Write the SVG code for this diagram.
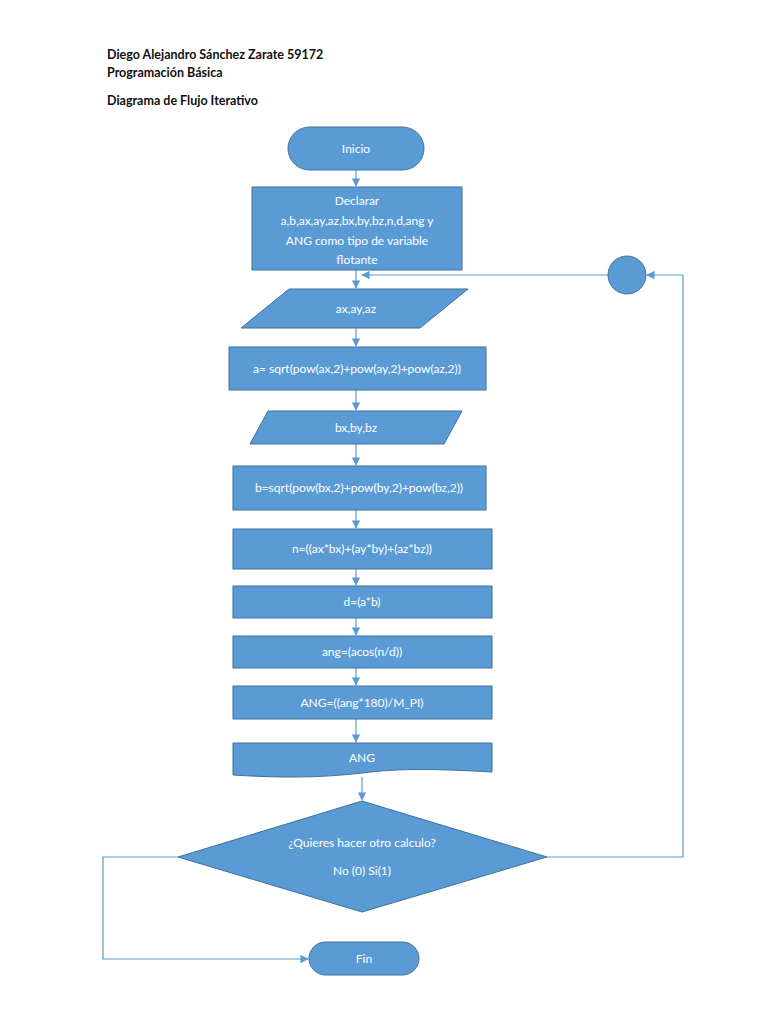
<svg xmlns="http://www.w3.org/2000/svg" width="768" height="1024" viewBox="0 0 768 1024">
<style>
.n{fill:#5B9BD5;stroke:#41719C;stroke-width:1}
.t{font-family:Lato,"Liberation Sans",sans-serif;font-size:12px;fill:#fff;text-anchor:middle}
.h{font-family:Lato,"Liberation Sans",sans-serif;font-size:12.5px;fill:#111;font-weight:bold}
.c{fill:none;stroke:#5B9BD5;stroke-width:1.2}
</style>
<defs><marker id="a" viewBox="0 0 10 10" refX="9" refY="5" markerWidth="7" markerHeight="7" orient="auto"><path d="M0,0L10,5L0,10z" fill="#5B9BD5"/></marker></defs>
<rect width="768" height="1024" fill="#fff"/>
<text class="h" x="107" y="59">Diego Alejandro Sánchez Zarate    59172</text>
<text class="h" x="107" y="77">Programación Básica</text>
<text class="h" x="107" y="105">Diagrama de Flujo Iterativo</text>
<g id="connectors">
<path class="c" d="M356,170V186" marker-end="url(#a)"/>
<path class="c" d="M356,270V288" marker-end="url(#a)"/>
<path class="c" d="M608,275H362" marker-end="url(#a)"/>
<path class="c" d="M547,857H683V275H647" marker-end="url(#a)"/>
<path class="c" d="M356,328V346" marker-end="url(#a)"/>
<path class="c" d="M356,390V410" marker-end="url(#a)"/>
<path class="c" d="M356,444V465" marker-end="url(#a)"/>
<path class="c" d="M356,510V528" marker-end="url(#a)"/>
<path class="c" d="M356,569V585" marker-end="url(#a)"/>
<path class="c" d="M356,618V635" marker-end="url(#a)"/>
<path class="c" d="M356,668V685" marker-end="url(#a)"/>
<path class="c" d="M356,719V742" marker-end="url(#a)"/>
<path class="c" d="M362,777V800" marker-end="url(#a)"/>
<path class="c" d="M178,857H103V959H308" marker-end="url(#a)"/>
</g>
<g id="inicio"><rect class="n" x="288" y="127" width="136" height="43" rx="21.5"/><text class="t" x="356" y="153">Inicio</text></g>
<g id="declarar"><rect class="n" x="252" y="187" width="210" height="83"/>
<text class="t" x="357" y="205">Declarar</text><text class="t" x="357" y="225">a,b,ax,ay,az,bx,by,bz,n,d,ang y</text><text class="t" x="357" y="245">ANG como tipo de variable</text><text class="t" x="357" y="264">flotante</text></g>
<g id="conector"><circle class="n" cx="627" cy="275" r="19"/></g>
<g id="in-a"><polygon class="n" points="289,289 468,289 420,328 241,328"/><text class="t" x="356" y="313">ax,ay,az</text></g>
<g id="calc-a"><rect class="n" x="229" y="347" width="257" height="43"/><text class="t" x="357" y="373">a= sqrt(pow(ax,2)+pow(ay,2)+pow(az,2))</text></g>
<g id="in-b"><polygon class="n" points="268,411 462,411 444,444 250,444"/><text class="t" x="356" y="432">bx,by,bz</text></g>
<g id="calc-b"><rect class="n" x="233" y="466" width="253" height="44"/><text class="t" x="359" y="492">b=sqrt(pow(bx,2)+pow(by,2)+pow(bz,2))</text></g>
<g id="calc-n"><rect class="n" x="233" y="529" width="259" height="40"/><text class="t" x="362" y="553">n=((ax*bx)+(ay*by)+(az*bz))</text></g>
<g id="calc-d"><rect class="n" x="233" y="586" width="259" height="32"/><text class="t" x="362" y="606">d=(a*b)</text></g>
<g id="calc-ang"><rect class="n" x="233" y="636" width="259" height="32"/><text class="t" x="362" y="656">ang=(acos(n/d))</text></g>
<g id="calc-ANG"><rect class="n" x="233" y="686" width="259" height="33"/><text class="t" x="362" y="707">ANG=((ang*180)/M_PI)</text></g>
<g id="out"><path class="n" d="M233,743H492V772C440,769 400,768 362,773C320,778 280,778 233,775Z"/><text class="t" x="362" y="762">ANG</text></g>
<g id="decision"><polygon class="n" points="362,801 547,857 362,912 178,857"/><text class="t" x="362" y="847">¿Quieres hacer otro calculo?</text><text class="t" x="362" y="875">No (0)    Si(1)</text></g>
<g id="fin"><rect class="n" x="309" y="942" width="110" height="33" rx="16.5"/><text class="t" x="364" y="963">Fin</text></g>
</svg>
